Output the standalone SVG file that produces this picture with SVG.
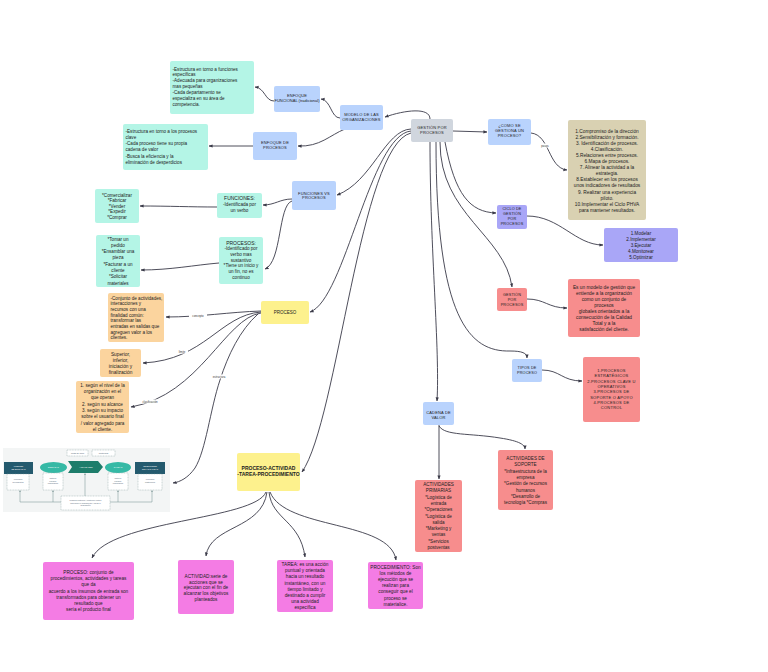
<svg xmlns="http://www.w3.org/2000/svg" width="768" height="672" viewBox="0 0 768 672">
<style>
.t{font-family:"Liberation Sans",Arial,sans-serif;fill:#222;font-size:4.6px}
.c{text-anchor:middle}
.u{font-size:4px;letter-spacing:0.15px}
.b{font-weight:bold;font-size:5px}
.lb{font-family:"Liberation Sans",Arial,sans-serif;fill:#333;font-size:2.8px;text-anchor:middle}
.cy{fill:#b4f5e6}
.bl{fill:#b9d3fd}
.gr{fill:#d0d6de}
.be{fill:#d9d1b2}
.pu{fill:#a9a6f7}
.rd{fill:#f78d8d}
.ye{fill:#fdf18d}
.or{fill:#fbd49e}
.pk{fill:#f47ce4}
.cn path{fill:none;stroke:#3a3a48;stroke-width:0.9}
.cn path.a{marker-end:url(#ar)}
.im{font-family:"Liberation Sans",Arial,sans-serif;text-anchor:middle;font-size:2px}
.dsh{fill:#fff;stroke:#7f9a9a;stroke-width:0.4;stroke-dasharray:1 0.6}
</style>
<defs>
<marker id="ar" viewBox="0 0 10 10" refX="9" refY="5" markerWidth="4" markerHeight="4" orient="auto" markerUnits="userSpaceOnUse"><path d="M0,1 L10,5 L0,9 z" fill="#3a3a48"/></marker>
<marker id="ai" viewBox="0 0 10 10" refX="9" refY="5" markerWidth="2" markerHeight="2" orient="auto" markerUnits="userSpaceOnUse"><path d="M0,1 L10,5 L0,9 z" fill="#6f8c8c"/></marker>
</defs>
<rect width="768" height="672" fill="#fff"/>

<g class="cn" id="connectors">
<path class="a" d="M430,119 C430,107 405,110 385,117"/>
<path class="a" d="M340,118 C331,118 331,100 321,99"/>
<path class="a" d="M345,129 C330,135 320,147 298,146"/>
<path class="a" d="M274,101 C265,101 265,88 255,87"/>
<path class="a" d="M253,146 L209,146"/>
<path class="a" d="M411,129 C385,130 372,182 337,195"/>
<path class="a" d="M411,131 C370,135 345,300 310,312"/>
<path class="a" d="M411,133 C360,145 338,420 302,472"/>
<path class="a" d="M292,199 C280,199 275,205 263,205"/>
<path class="a" d="M292,201 C278,205 282,262 265,269"/>
<path class="a" d="M217,207 C190,207 170,206 140,206"/>
<path class="a" d="M219,263 C195,265 170,270 141,270"/>
<path class="a" d="M453,131 L487,132"/>
<path class="a" d="M531,133 C550,135 548,168 567,170"/>
<path class="a" d="M445,142 C455,195 470,212 496,213"/>
<path class="a" d="M440,142 C440,215 505,235 512,287"/>
<path class="a" d="M436,142 C436,320 470,352 510,351 C522,351 527,353 527,358"/>
<path class="a" d="M430,142 C430,250 440,350 437,401"/>
<path class="a" d="M527,216 C560,216 575,245 603,245"/>
<path class="a" d="M527,299 C545,299 548,308 567,308"/>
<path class="a" d="M542,370 C560,370 562,381 582,381"/>
<path class="a" d="M439,425 L439,479"/>
<path class="a" d="M439,426 C445,436 470,433 500,438 C520,441 525,445 525,449"/>
<path class="a" d="M261,311 C230,312 200,317 166,317"/>
<path class="a" d="M261,312 C220,315 205,360 143,363"/>
<path class="a" d="M261,313 C225,318 200,395 131,407"/>
<path class="a" d="M258,314 C240,330 228,355 220,380 C210,410 206,450 195,468 C188,478 180,482 173,483"/>
<path class="a" d="M266,492 C255,520 110,520 92,558"/>
<path class="a" d="M267,492 C262,530 210,525 206,556"/>
<path class="a" d="M269,492 C272,520 300,520 305,557"/>
<path class="a" d="M270,492 C285,530 390,520 396,560"/>
<rect x="538" y="143.5" width="14" height="4" fill="#fff"/>
<text class="lb" x="545" y="146.5">pasos</text>
<rect x="189" y="313.5" width="18" height="4" fill="#fff"/>
<text class="lb" x="198" y="316.5">concepto</text>
<rect x="176" y="349.5" width="12" height="4" fill="#fff"/>
<text class="lb" x="182" y="352.5">límite</text>
<rect x="210" y="374.5" width="18" height="4" fill="#fff"/>
<text class="lb" x="219" y="377.5">estructura</text>
<rect x="140" y="399.5" width="20" height="4" fill="#fff"/>
<text class="lb" x="150" y="402.5">clasificación</text>
</g>

<g id="n-funcional-desc"><rect class="cy" x="170" y="61" width="84" height="53" rx="2"/>
<text class="t" x="172.5" y="70.5"><tspan x="172.5">-Estructura en torno a funciones</tspan><tspan x="172.5" dy="5.9">específicas</tspan><tspan x="172.5" dy="5.9">-Adecuada para organizaciones</tspan><tspan x="172.5" dy="5.9">mas pequeñas</tspan><tspan x="172.5" dy="5.9">-Cada departamento se</tspan><tspan x="172.5" dy="5.9">especializa en su área de</tspan><tspan x="172.5" dy="5.9">competencia.</tspan></text></g>

<g id="n-enfoque-funcional"><rect class="bl" x="274" y="86" width="46" height="26" rx="2"/>
<text class="t c u" x="297" y="97" style="letter-spacing:0"><tspan x="297">ENFOQUE</tspan><tspan x="297" dy="4.8">FUNCIONAL (tradicional)</tspan></text></g>

<g id="n-modelo"><rect class="bl" x="340" y="105" width="43" height="25" rx="2"/>
<text class="t c u" x="361.5" y="115.5"><tspan x="361.5">MODELO DE LAS</tspan><tspan x="361.5" dy="5">ORGANIZACIONES</tspan></text></g>

<g id="n-procesos-desc"><rect class="cy" x="123" y="124" width="85" height="46" rx="2"/>
<text class="t" x="125.5" y="132.7"><tspan x="125.5">-Estructura en torno a los procesos</tspan><tspan x="125.5" dy="6.2">clave</tspan><tspan x="125.5" dy="6.2">-Cada proceso tiene su propia</tspan><tspan x="125.5" dy="6.2">cadena de valor</tspan><tspan x="125.5" dy="6.2">-Busca la eficiencia y la</tspan><tspan x="125.5" dy="6.2">eliminación de desperdicios</tspan></text></g>

<g id="n-enfoque-procesos"><rect class="bl" x="253" y="132" width="44" height="28" rx="2"/>
<text class="t c u" x="275" y="143.5"><tspan x="275">ENFOQUE DE</tspan><tspan x="275" dy="5">PROCESOS</tspan></text></g>

<g id="n-fvp"><rect class="bl" x="292" y="181" width="44" height="29" rx="2"/>
<text class="t c u" x="314" y="194.5"><tspan x="314">FUNCIONES VS</tspan><tspan x="314" dy="4.8">PROCESOS</tspan></text></g>

<g id="n-funciones"><rect class="cy" x="217" y="193" width="45" height="25" rx="2"/>
<text class="t c" x="239.5" y="200"><tspan x="239.5" style="font-size:5px">FUNCIONES:</tspan><tspan x="239.5" dy="6.2">-Identificada por</tspan><tspan x="239.5" dy="6.2">un verbo</tspan></text></g>

<g id="n-funciones-list"><rect class="cy" x="95" y="189" width="44" height="34" rx="2"/>
<text class="t c" x="117" y="196.5"><tspan x="117">*Comercializar</tspan><tspan x="117" dy="5.5">*Fabricar</tspan><tspan x="117" dy="5.5">*Vender</tspan><tspan x="117" dy="5.5">*Expedir</tspan><tspan x="117" dy="5.5">*Comprar</tspan></text></g>

<g id="n-procesos"><rect class="cy" x="219" y="237" width="44" height="47" rx="2"/>
<text class="t c" x="241" y="244.5"><tspan x="241" style="font-size:5px">PROCESOS:</tspan><tspan x="241" dy="5.7">-Identificado por</tspan><tspan x="241" dy="5.7">verbo mas</tspan><tspan x="241" dy="5.7">sustantivo</tspan><tspan x="241" dy="5.7">*Tiene un inicio y</tspan><tspan x="241" dy="5.7">un fin, no es</tspan><tspan x="241" dy="5.7">continuo</tspan></text></g>

<g id="n-procesos-list"><rect class="cy" x="96" y="235" width="44" height="52" rx="2"/>
<text class="t c" x="118" y="240.5"><tspan x="118">*Tomar un</tspan><tspan x="118" dy="6.3">pedido</tspan><tspan x="118" dy="6.3">*Ensamblar una</tspan><tspan x="118" dy="6.3">pieza</tspan><tspan x="118" dy="6.3">*Facturar a un</tspan><tspan x="118" dy="6.3">cliente</tspan><tspan x="118" dy="6.3">*Solicitar</tspan><tspan x="118" dy="6.3">materiales</tspan></text></g>

<g id="n-gestion"><rect class="gr" x="411" y="119" width="42" height="23" rx="2"/>
<text class="t c u" x="432" y="128.5"><tspan x="432">GESTIÓN POR</tspan><tspan x="432" dy="5.5">PROCESOS</tspan></text></g>

<g id="n-como"><rect class="bl" x="488" y="119" width="43" height="26" rx="2"/>
<text class="t c u" x="509.5" y="127"><tspan x="509.5">¿COMO SE</tspan><tspan x="509.5" dy="5">GESTIONA UN</tspan><tspan x="509.5" dy="5">PROCESO?</tspan></text></g>

<g id="n-pasos"><rect class="be" x="568" y="120" width="78" height="100" rx="2"/>
<text class="t c" x="607" y="132.7" style="font-size:4.8px"><tspan x="607">1.Compromiso de la dirección</tspan><tspan x="607" dy="6.08">2.Sensibilización y formación.</tspan><tspan x="607" dy="6.08">3. Identificación de procesos.</tspan><tspan x="607" dy="6.08">4.Clasificación.</tspan><tspan x="607" dy="6.08">5.Relaciones entre procesos.</tspan><tspan x="607" dy="6.08">6.Mapa de procesos.</tspan><tspan x="607" dy="6.08">7. Alinear la actividad a la</tspan><tspan x="607" dy="6.08">estrategia.</tspan><tspan x="607" dy="6.08">8.Establecer en los procesos</tspan><tspan x="607" dy="6.08">unos indicadores de resultados</tspan><tspan x="607" dy="6.08">9. Realizar una experiencia</tspan><tspan x="607" dy="6.08">piloto.</tspan><tspan x="607" dy="6.08">10.Implementar el Ciclo PHVA</tspan><tspan x="607" dy="6.08">para mantener resultados.</tspan></text></g>

<g id="n-ciclo"><rect class="pu" x="497" y="205" width="30" height="24" rx="2"/>
<text class="t c u" x="512" y="210" style="font-size:3.8px"><tspan x="512">CICLO DE</tspan><tspan x="512" dy="5">GESTIÓN</tspan><tspan x="512" dy="5">POR</tspan><tspan x="512" dy="5">PROCESOS</tspan></text></g>

<g id="n-ciclo-list"><rect class="pu" x="604" y="228" width="74" height="34" rx="2"/>
<text class="t c" x="641" y="234.5"><tspan x="641">1.Modelar</tspan><tspan x="641" dy="6">2.Implementar</tspan><tspan x="641" dy="6">3.Ejecutar</tspan><tspan x="641" dy="6">4.Monitorear</tspan><tspan x="641" dy="6">5.Optimizar</tspan></text></g>

<g id="n-gpp"><rect class="rd" x="497" y="288" width="30" height="23" rx="2"/>
<text class="t c u" x="512" y="295.5" style="font-size:3.8px"><tspan x="512">GESTIÓN</tspan><tspan x="512" dy="5">POR</tspan><tspan x="512" dy="5">PROCESOS</tspan></text></g>

<g id="n-gpp-desc"><rect class="rd" x="568" y="279" width="72" height="58" rx="2"/>
<text class="t c" x="604" y="289" style="font-size:4.8px"><tspan x="604">Es un modelo de gestión que</tspan><tspan x="604" dy="6">entiende a la organización</tspan><tspan x="604" dy="6">como un conjunto de</tspan><tspan x="604" dy="6">procesos</tspan><tspan x="604" dy="6">globales orientados a la</tspan><tspan x="604" dy="6">consecución de la Calidad</tspan><tspan x="604" dy="6">Total y a la</tspan><tspan x="604" dy="6">satisfacción del cliente.</tspan></text></g>

<g id="n-tipos"><rect class="bl" x="512" y="359" width="30" height="23" rx="2"/>
<text class="t c u" x="527" y="368.5" style="font-size:3.8px"><tspan x="527">TIPOS DE</tspan><tspan x="527" dy="5">PROCESO</tspan></text></g>

<g id="n-tipos-list"><rect class="rd" x="583" y="357" width="57" height="65" rx="2"/>
<text class="t c u" x="611.5" y="372" style="letter-spacing:0.25px"><tspan x="611.5">1.PROCESOS</tspan><tspan x="611.5" dy="5.3">ESTRATÉGICOS</tspan><tspan x="611.5" dy="5.3">2.PROCESOS CLAVE U</tspan><tspan x="611.5" dy="5.3">OPERATIVOS</tspan><tspan x="611.5" dy="5.3">3.PROCESOS DE</tspan><tspan x="611.5" dy="5.3">SOPORTE O APOYO</tspan><tspan x="611.5" dy="5.3">4.PROCESOS DE</tspan><tspan x="611.5" dy="5.3">CONTROL</tspan></text></g>

<g id="n-proceso"><rect class="ye" x="261" y="301" width="48" height="23" rx="2"/>
<text class="t c" x="285" y="313.8" style="font-size:4.5px">PROCESO</text></g>

<g id="n-concepto"><rect class="or" x="108" y="293" width="56" height="49" rx="2"/>
<text class="t" x="110.5" y="299.5"><tspan x="110.5">-Conjunto de actividades,</tspan><tspan x="110.5" dy="5.7">interacciones y</tspan><tspan x="110.5" dy="5.7">recursos con una</tspan><tspan x="110.5" dy="5.7">finalidad común:</tspan><tspan x="110.5" dy="5.7">transformar las</tspan><tspan x="110.5" dy="5.7">entradas en salidas que</tspan><tspan x="110.5" dy="5.7">agreguen valor a los</tspan><tspan x="110.5" dy="5.7">clientes.</tspan></text></g>

<g id="n-limite"><rect class="or" x="100" y="349" width="41" height="28" rx="2"/>
<text class="t c" x="120.5" y="355.5" style="font-size:4.8px"><tspan x="120.5">Superior,</tspan><tspan x="120.5" dy="6.2">inferior,</tspan><tspan x="120.5" dy="6.2">iniciación y</tspan><tspan x="120.5" dy="6.2">finalización</tspan></text></g>

<g id="n-clasificacion"><rect class="or" x="76" y="381" width="53" height="52" rx="2"/>
<text class="t c" x="102.5" y="386.8"><tspan x="102.5">1. según el nivel de la</tspan><tspan x="102.5" dy="6.3">organización en el</tspan><tspan x="102.5" dy="6.3">que operan</tspan><tspan x="102.5" dy="6.3">2. según su alcance</tspan><tspan x="102.5" dy="6.3">3. según su impacto</tspan><tspan x="102.5" dy="6.3">sobre el usuario final</tspan><tspan x="102.5" dy="6.3">/ valor agregado para</tspan><tspan x="102.5" dy="6.3">el cliente.</tspan></text></g>

<g id="n-estructura-imagen">
<rect x="3" y="448" width="167" height="64" fill="#f3f5f5"/>
<rect class="dsh" x="67" y="450" width="21" height="6"/>
<text class="im" x="77.5" y="453.8" fill="#456">Punto de inicio</text>
<rect class="dsh" x="92" y="450" width="23" height="6"/>
<text class="im" x="103.5" y="453.8" fill="#456">Punto final</text>
<rect x="4" y="462" width="29" height="12" fill="#245a6e"/>
<text class="im" x="18.5" y="467.3" fill="#fff"><tspan x="18.5">FUENTES</tspan><tspan x="18.5" dy="2.6">DE ENTRADAS</tspan></text>
<rect class="dsh" x="7" y="474" width="22" height="16"/>
<text class="im" x="18" y="480" fill="#567"><tspan x="18">Procesos</tspan><tspan x="18" dy="2.5">precedentes</tspan></text>
<ellipse cx="53.5" cy="467.5" rx="13.5" ry="5.5" fill="#35b9a5"/>
<text class="im" x="53.5" y="468.3" fill="#fff">ENTRADAS</text>
<rect class="dsh" x="43" y="473" width="20" height="17"/>
<text class="im" x="53" y="479" fill="#567"><tspan x="53">Materia,</tspan><tspan x="53" dy="2.5">energía,</tspan><tspan x="53" dy="2.5">información</tspan></text>
<polygon points="68,461 98,461 103,467 98,473 68,473 72,467" fill="#1e7d6b"/>
<text class="im" x="86" y="468.3" fill="#fff">ACTIVIDADES</text>
<ellipse cx="118" cy="467.5" rx="13" ry="5.5" fill="#35b9a5"/>
<text class="im" x="118" y="468.3" fill="#fff">SALIDAS</text>
<rect class="dsh" x="108" y="473" width="20" height="17"/>
<text class="im" x="118" y="479" fill="#567"><tspan x="118">Materia,</tspan><tspan x="118" dy="2.5">energía,</tspan><tspan x="118" dy="2.5">información</tspan></text>
<rect x="135" y="462" width="30" height="12" fill="#245a6e"/>
<text class="im" x="150" y="467.3" fill="#fff"><tspan x="150">RECEPTORES</tspan><tspan x="150" dy="2.6">DE LAS SALIDAS</tspan></text>
<rect class="dsh" x="138" y="474" width="24" height="16"/>
<text class="im" x="150" y="480" fill="#567"><tspan x="150">Procesos</tspan><tspan x="150" dy="2.5">posteriores</tspan></text>
<g fill="none" stroke="#6f8c8c" stroke-width="0.5">
<path d="M61,502 L20,502 L20,490.5" marker-end="url(#ai)"/>
<path d="M53,502 L53,490.5" marker-end="url(#ai)"/>
<path d="M110,502 L152,502 L152,490.5" marker-end="url(#ai)"/>
<path d="M118,502 L118,490.5" marker-end="url(#ai)"/>
<path d="M85,496 L85,473.5" marker-end="url(#ai)"/>
</g>
<rect class="dsh" x="61" y="496" width="49" height="14"/>
<text class="im" x="85.5" y="501" fill="#567" style="font-size:1.9px"><tspan x="85.5">Posibles controles y puntos de control</tspan><tspan x="85.5" dy="2.6">para hacer el seguimiento y medir el</tspan><tspan x="85.5" dy="2.6">desempeño</tspan></text>
</g>

<g id="n-pa"><rect class="ye" x="237" y="453" width="63" height="38" rx="2"/>
<text class="t c b" x="268.5" y="469.5"><tspan x="268.5">PROCESO-ACTIVIDAD</tspan><tspan x="268.5" dy="6">-TAREA-PROCEDIMIENTO</tspan></text></g>

<g id="n-cadena"><rect class="bl" x="423" y="402" width="31" height="23" rx="2"/>
<text class="t c u" x="438.5" y="413.5"><tspan x="438.5">CADENA DE</tspan><tspan x="438.5" dy="5">VALOR</tspan></text></g>

<g id="n-primarias"><rect class="rd" x="415" y="480" width="47" height="72" rx="2"/>
<text class="t c" x="438.5" y="486"><tspan x="438.5">ACTIVIDADES</tspan><tspan x="438.5" dy="6.3">PRIMARIAS</tspan><tspan x="438.5" dy="6.3">*Logística de</tspan><tspan x="438.5" dy="6.3">entrada</tspan><tspan x="438.5" dy="6.3">*Operaciones</tspan><tspan x="438.5" dy="6.3">*Logística de</tspan><tspan x="438.5" dy="6.3">salida</tspan><tspan x="438.5" dy="6.3">*Marketing y</tspan><tspan x="438.5" dy="6.3">ventas</tspan><tspan x="438.5" dy="6.3">*Servicios</tspan><tspan x="438.5" dy="6.3">postventas</tspan></text></g>

<g id="n-soporte"><rect class="rd" x="498" y="450" width="55" height="60" rx="2"/>
<text class="t c" x="525.5" y="460"><tspan x="525.5">ACTIVIDADES DE</tspan><tspan x="525.5" dy="6.3">SOPORTE</tspan><tspan x="525.5" dy="6.3">*Infraestructura de la</tspan><tspan x="525.5" dy="6.3">empresa</tspan><tspan x="525.5" dy="6.3">*Gestión de recursos</tspan><tspan x="525.5" dy="6.3">humanos</tspan><tspan x="525.5" dy="6.3">*Desarrollo de</tspan><tspan x="525.5" dy="6.3">tecnología    *Compras</tspan></text></g>

<g id="n-def-proceso"><rect class="pk" x="43" y="562" width="91" height="58" rx="2"/>
<text class="t c" x="88.5" y="574" style="font-size:4.7px"><tspan x="88.5">PROCESO: conjunto de</tspan><tspan x="88.5" dy="6.2">procedimientos, actividades y tareas</tspan><tspan x="88.5" dy="6.2">que da</tspan><tspan x="88.5" dy="6.2">acuerdo a los insumos de entrada son</tspan><tspan x="88.5" dy="6.2">transformados para obtener un</tspan><tspan x="88.5" dy="6.2">resultado que</tspan><tspan x="88.5" dy="6.2">sería el producto final</tspan></text></g>

<g id="n-def-actividad"><rect class="pk" x="178" y="560" width="56" height="54" rx="2"/>
<text class="t c" x="206" y="577.8" style="font-size:4.7px"><tspan x="206">ACTIVIDAD:serie de</tspan><tspan x="206" dy="5.8">acciones que se</tspan><tspan x="206" dy="5.8">ejecutan con el fin de</tspan><tspan x="206" dy="5.8">alcanzar los objetivos</tspan><tspan x="206" dy="5.8">planteados</tspan></text></g>

<g id="n-def-tarea"><rect class="pk" x="277" y="560" width="56" height="52" rx="2"/>
<text class="t c" x="305" y="566" style="font-size:4.7px"><tspan x="305">TAREA: es una acción</tspan><tspan x="305" dy="6.2">puntual y orientada</tspan><tspan x="305" dy="6.2">hacia un resultado</tspan><tspan x="305" dy="6.2">instantáneo, con un</tspan><tspan x="305" dy="6.2">tiempo limitado y</tspan><tspan x="305" dy="6.2">destinado a cumplir</tspan><tspan x="305" dy="6.2">una actividad</tspan><tspan x="305" dy="6.2">específica</tspan></text></g>

<g id="n-def-procedimiento"><rect class="pk" x="368" y="562" width="55" height="47" rx="2"/>
<text class="t c" x="395.5" y="569" style="font-size:4.7px"><tspan x="395.5">PROCEDIMIENTO: Son</tspan><tspan x="395.5" dy="6.1">los métodos de</tspan><tspan x="395.5" dy="6.1">ejecución que se</tspan><tspan x="395.5" dy="6.1">realizan para</tspan><tspan x="395.5" dy="6.1">conseguir que el</tspan><tspan x="395.5" dy="6.1">proceso se</tspan><tspan x="395.5" dy="6.1">materialice.</tspan></text></g>
</svg>
